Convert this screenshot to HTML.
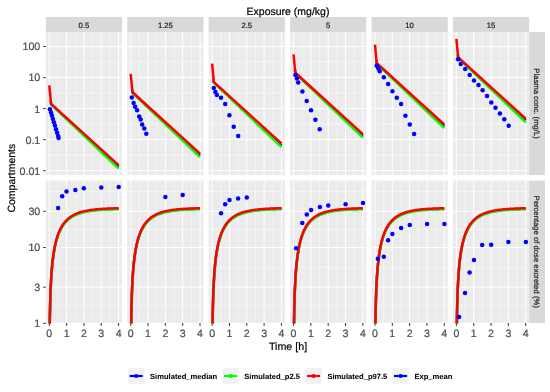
<!DOCTYPE html>
<html><head><meta charset="utf-8"><style>
html,body{margin:0;padding:0;background:#fff;width:550px;height:392px;overflow:hidden;position:relative}
svg text{font-family:"Liberation Sans",sans-serif}
svg{will-change:transform}
svg text{stroke:currentColor;stroke-width:0.2px;text-rendering:geometricPrecision}
</style></head><body>
<svg width="550" height="392" viewBox="0 0 550 392" style="position:absolute;left:0;top:0"><defs><clipPath id="c1"><rect x="0" y="32.0" width="76.2" height="143.1"/></clipPath></defs><rect width="550" height="392" fill="#fff"/><rect x="45.84" y="17.0" width="76.2" height="15.00" fill="#D9D9D9"/><text x="83.94" y="27.70" font-size="7.7" fill="#1A1A1A" color="#1A1A1A" text-anchor="middle">0.5</text><rect x="45.84" y="32.0" width="76.2" height="143.10" fill="#EBEBEB"/><line x1="57.96" x2="57.96" y1="32.0" y2="175.1" stroke="#fff" stroke-width="0.5"/><line x1="75.28" x2="75.28" y1="32.0" y2="175.1" stroke="#fff" stroke-width="0.5"/><line x1="92.60" x2="92.60" y1="32.0" y2="175.1" stroke="#fff" stroke-width="0.5"/><line x1="109.92" x2="109.92" y1="32.0" y2="175.1" stroke="#fff" stroke-width="0.5"/><line x1="45.84" x2="122.04" y1="155.18" y2="155.18" stroke="#fff" stroke-width="0.5"/><line x1="45.84" x2="122.04" y1="124.12" y2="124.12" stroke="#fff" stroke-width="0.5"/><line x1="45.84" x2="122.04" y1="93.07" y2="93.07" stroke="#fff" stroke-width="0.5"/><line x1="45.84" x2="122.04" y1="62.02" y2="62.02" stroke="#fff" stroke-width="0.5"/><line x1="45.84" x2="122.04" y1="170.70" y2="170.70" stroke="#fff" stroke-width="1"/><line x1="45.84" x2="122.04" y1="139.65" y2="139.65" stroke="#fff" stroke-width="1"/><line x1="45.84" x2="122.04" y1="108.60" y2="108.60" stroke="#fff" stroke-width="1"/><line x1="45.84" x2="122.04" y1="77.55" y2="77.55" stroke="#fff" stroke-width="1"/><line x1="45.84" x2="122.04" y1="46.50" y2="46.50" stroke="#fff" stroke-width="1"/><line x1="49.30" x2="49.30" y1="32.0" y2="175.1" stroke="#fff" stroke-width="1"/><line x1="66.62" x2="66.62" y1="32.0" y2="175.1" stroke="#fff" stroke-width="1"/><line x1="83.94" x2="83.94" y1="32.0" y2="175.1" stroke="#fff" stroke-width="1"/><line x1="101.26" x2="101.26" y1="32.0" y2="175.1" stroke="#fff" stroke-width="1"/><line x1="118.58" x2="118.58" y1="32.0" y2="175.1" stroke="#fff" stroke-width="1"/><rect x="45.84" y="180.5" width="76.2" height="142.50" fill="#EBEBEB"/><line x1="57.96" x2="57.96" y1="180.5" y2="323.0" stroke="#fff" stroke-width="0.5"/><line x1="75.28" x2="75.28" y1="180.5" y2="323.0" stroke="#fff" stroke-width="0.5"/><line x1="92.60" x2="92.60" y1="180.5" y2="323.0" stroke="#fff" stroke-width="0.5"/><line x1="109.92" x2="109.92" y1="180.5" y2="323.0" stroke="#fff" stroke-width="0.5"/><line x1="45.84" x2="122.04" y1="305.29" y2="305.29" stroke="#fff" stroke-width="0.5"/><line x1="45.84" x2="122.04" y1="267.34" y2="267.34" stroke="#fff" stroke-width="0.5"/><line x1="45.84" x2="122.04" y1="229.39" y2="229.39" stroke="#fff" stroke-width="0.5"/><line x1="45.84" x2="122.04" y1="191.44" y2="191.44" stroke="#fff" stroke-width="0.5"/><line x1="45.84" x2="122.04" y1="323.40" y2="323.40" stroke="#fff" stroke-width="1"/><line x1="45.84" x2="122.04" y1="287.19" y2="287.19" stroke="#fff" stroke-width="1"/><line x1="45.84" x2="122.04" y1="247.50" y2="247.50" stroke="#fff" stroke-width="1"/><line x1="45.84" x2="122.04" y1="211.29" y2="211.29" stroke="#fff" stroke-width="1"/><line x1="49.30" x2="49.30" y1="180.5" y2="323.0" stroke="#fff" stroke-width="1"/><line x1="66.62" x2="66.62" y1="180.5" y2="323.0" stroke="#fff" stroke-width="1"/><line x1="83.94" x2="83.94" y1="180.5" y2="323.0" stroke="#fff" stroke-width="1"/><line x1="101.26" x2="101.26" y1="180.5" y2="323.0" stroke="#fff" stroke-width="1"/><line x1="118.58" x2="118.58" y1="180.5" y2="323.0" stroke="#fff" stroke-width="1"/><line x1="49.30" x2="49.30" y1="323.0" y2="325.90" stroke="#333" stroke-width="1"/><text x="49.30" y="336.6" font-size="10.6" fill="#4D4D4D" color="#4D4D4D" text-anchor="middle">0</text><line x1="66.62" x2="66.62" y1="323.0" y2="325.90" stroke="#333" stroke-width="1"/><text x="66.62" y="336.6" font-size="10.6" fill="#4D4D4D" color="#4D4D4D" text-anchor="middle">1</text><line x1="83.94" x2="83.94" y1="323.0" y2="325.90" stroke="#333" stroke-width="1"/><text x="83.94" y="336.6" font-size="10.6" fill="#4D4D4D" color="#4D4D4D" text-anchor="middle">2</text><line x1="101.26" x2="101.26" y1="323.0" y2="325.90" stroke="#333" stroke-width="1"/><text x="101.26" y="336.6" font-size="10.6" fill="#4D4D4D" color="#4D4D4D" text-anchor="middle">3</text><line x1="118.58" x2="118.58" y1="323.0" y2="325.90" stroke="#333" stroke-width="1"/><text x="118.58" y="336.6" font-size="10.6" fill="#4D4D4D" color="#4D4D4D" text-anchor="middle">4</text><g clip-path="none"><polyline points="50.78,100.80 51.03,104.10 118.58,166.95" fill="none" stroke="#0000FF" stroke-width="2.5" stroke-linejoin="round"/><polyline points="50.78,100.80 51.03,104.40 118.58,168.70" fill="none" stroke="#00FF00" stroke-width="2.5" stroke-linejoin="round"/><polyline points="49.30,85.40 51.03,103.80 118.58,165.20" fill="none" stroke="#FF0000" stroke-width="2.5" stroke-linejoin="round"/><circle cx="49.9" cy="109.3" r="2.25" fill="#0000FF"/><circle cx="51.0" cy="112.5" r="2.25" fill="#0000FF"/><circle cx="51.9" cy="115.6" r="2.25" fill="#0000FF"/><circle cx="52.9" cy="119.0" r="2.25" fill="#0000FF"/><circle cx="53.9" cy="122.3" r="2.25" fill="#0000FF"/><circle cx="54.9" cy="125.6" r="2.25" fill="#0000FF"/><circle cx="56.0" cy="129.2" r="2.25" fill="#0000FF"/><circle cx="57.1" cy="132.8" r="2.25" fill="#0000FF"/><circle cx="58.1" cy="136.0" r="2.25" fill="#0000FF"/><circle cx="58.6" cy="137.9" r="2.25" fill="#0000FF"/></g><polyline points="49.76,323.40 49.76,323.06 49.78,322.08 49.80,320.50 49.84,318.41 49.88,315.92 49.93,313.11 49.99,310.09 50.07,306.93 50.15,303.69 50.24,300.44 50.34,297.19 50.45,294.00 50.57,290.86 50.70,287.81 50.84,284.84 50.98,281.97 51.14,279.19 51.31,276.50 51.49,273.91 51.67,271.42 51.87,269.01 52.07,266.70 52.29,264.47 52.51,262.32 52.75,260.25 52.99,258.26 53.24,256.34 53.51,254.49 53.78,252.71 54.06,251.00 54.35,249.35 54.65,247.75 54.96,246.22 55.28,244.74 55.61,243.31 55.95,241.94 56.30,240.61 56.66,239.33 57.03,238.10 57.41,236.91 57.79,235.76 58.19,234.66 58.60,233.59 59.01,232.56 59.44,231.57 59.87,230.61 60.32,229.69 60.77,228.80 61.23,227.95 61.71,227.12 62.19,226.32 62.68,225.56 63.18,224.82 63.70,224.10 64.22,223.42 64.75,222.76 65.29,222.12 65.84,221.51 66.40,220.92 66.96,220.35 67.54,219.81 68.13,219.29 68.73,218.78 69.34,218.30 69.95,217.83 70.58,217.39 71.21,216.96 71.86,216.55 72.51,216.15 73.18,215.77 73.85,215.41 74.54,215.06 75.23,214.73 75.93,214.41 76.64,214.10 77.36,213.81 78.10,213.53 78.84,213.26 79.59,213.01 80.35,212.76 81.12,212.53 81.89,212.31 82.68,212.10 83.48,211.90 84.29,211.70 85.11,211.52 85.93,211.34 86.77,211.18 87.62,211.02 88.47,210.87 89.34,210.73 90.21,210.59 91.09,210.46 91.99,210.34 92.89,210.23 93.80,210.12 94.73,210.01 95.66,209.92 96.60,209.82 97.55,209.74 98.51,209.65 99.48,209.58 100.46,209.50 101.45,209.43 102.45,209.37 103.46,209.31 104.48,209.25 105.50,209.19 106.54,209.14 107.59,209.09 108.64,209.05 109.71,209.01 110.79,208.97 111.87,208.93 112.96,208.90 114.07,208.86 115.18,208.83 116.31,208.80 117.44,208.78 118.58,208.75" fill="none" stroke="#0000FF" stroke-width="2.5"/><polyline points="49.77,323.40 49.77,323.07 49.79,322.10 49.81,320.54 49.84,318.49 49.89,316.02 49.94,313.25 50.00,310.26 50.07,307.13 50.15,303.93 50.24,300.70 50.35,297.48 50.46,294.31 50.57,291.19 50.70,288.16 50.84,285.21 50.99,282.34 51.15,279.58 51.32,276.90 51.49,274.32 51.68,271.84 51.87,269.44 52.08,267.13 52.29,264.90 52.52,262.76 52.75,260.70 53.00,258.71 53.25,256.80 53.51,254.95 53.79,253.18 54.07,251.47 54.36,249.82 54.66,248.23 54.97,246.69 55.29,245.22 55.62,243.79 55.96,242.42 56.31,241.09 56.67,239.82 57.04,238.59 57.41,237.40 57.80,236.25 58.20,235.15 58.60,234.08 59.02,233.06 59.44,232.06 59.88,231.11 60.32,230.19 60.78,229.30 61.24,228.44 61.71,227.62 62.20,226.82 62.69,226.06 63.19,225.32 63.70,224.61 64.22,223.92 64.75,223.26 65.29,222.62 65.84,222.01 66.40,221.42 66.97,220.86 67.55,220.31 68.14,219.79 68.73,219.29 69.34,218.80 69.96,218.34 70.58,217.89 71.22,217.46 71.86,217.05 72.52,216.66 73.18,216.28 73.86,215.91 74.54,215.57 75.23,215.23 75.94,214.91 76.65,214.61 77.37,214.32 78.10,214.04 78.84,213.77 79.59,213.51 80.35,213.27 81.12,213.04 81.90,212.82 82.69,212.60 83.49,212.40 84.29,212.21 85.11,212.03 85.94,211.85 86.77,211.69 87.62,211.53 88.47,211.38 89.34,211.24 90.21,211.10 91.10,210.97 91.99,210.85 92.89,210.74 93.81,210.63 94.73,210.52 95.66,210.42 96.60,210.33 97.55,210.24 98.51,210.16 99.48,210.08 100.46,210.01 101.45,209.94 102.45,209.88 103.46,209.81 104.48,209.76 105.51,209.70 106.54,209.65 107.59,209.60 108.65,209.56 109.71,209.52 110.79,209.48 111.87,209.44 112.97,209.40 114.07,209.37 115.18,209.34 116.31,209.31 117.44,209.29 118.58,209.26" fill="none" stroke="#00FF00" stroke-width="2.5"/><polyline points="49.75,323.40 49.76,323.06 49.77,322.06 49.80,320.46 49.83,318.34 49.87,315.81 49.92,312.97 49.99,309.92 50.06,306.72 50.14,303.46 50.23,300.17 50.33,296.91 50.44,293.69 50.56,290.54 50.69,287.47 50.83,284.48 50.98,281.60 51.13,278.80 51.30,276.11 51.48,273.51 51.66,271.01 51.86,268.59 52.07,266.27 52.28,264.03 52.51,261.88 52.74,259.81 52.98,257.81 53.24,255.89 53.50,254.04 53.77,252.25 54.05,250.54 54.35,248.88 54.65,247.29 54.96,245.75 55.28,244.27 55.61,242.84 55.95,241.46 56.30,240.13 56.65,238.85 57.02,237.62 57.40,236.43 57.79,235.28 58.18,234.17 58.59,233.11 59.01,232.08 59.43,231.08 59.87,230.13 60.31,229.20 60.77,228.31 61.23,227.46 61.70,226.63 62.18,225.83 62.68,225.06 63.18,224.33 63.69,223.61 64.21,222.93 64.74,222.27 65.28,221.63 65.83,221.02 66.39,220.43 66.96,219.86 67.54,219.31 68.13,218.79 68.72,218.29 69.33,217.80 69.95,217.34 70.57,216.89 71.21,216.46 71.85,216.05 72.51,215.65 73.17,215.27 73.85,214.91 74.53,214.56 75.22,214.23 75.93,213.91 76.64,213.60 77.36,213.31 78.09,213.03 78.83,212.76 79.58,212.51 80.34,212.27 81.11,212.03 81.89,211.81 82.68,211.60 83.48,211.40 84.29,211.20 85.10,211.02 85.93,210.85 86.77,210.68 87.61,210.52 88.47,210.37 89.33,210.23 90.21,210.09 91.09,209.96 91.99,209.84 92.89,209.73 93.80,209.62 94.72,209.51 95.66,209.42 96.60,209.32 97.55,209.24 98.51,209.15 99.48,209.08 100.46,209.00 101.45,208.93 102.45,208.87 103.46,208.81 104.48,208.75 105.50,208.69 106.54,208.64 107.59,208.59 108.64,208.55 109.71,208.51 110.78,208.47 111.87,208.43 112.96,208.40 114.07,208.36 115.18,208.33 116.30,208.30 117.44,208.28 118.58,208.25" fill="none" stroke="#FF0000" stroke-width="2.5"/><circle cx="58.1" cy="207.9" r="2.25" fill="#0000FF"/><circle cx="62.2" cy="196.3" r="2.25" fill="#0000FF"/><circle cx="66.5" cy="191.6" r="2.25" fill="#0000FF"/><circle cx="75.3" cy="189.9" r="2.25" fill="#0000FF"/><circle cx="83.8" cy="188.3" r="2.25" fill="#0000FF"/><circle cx="101.3" cy="187.6" r="2.25" fill="#0000FF"/><circle cx="118.7" cy="187.0" r="2.25" fill="#0000FF"/><rect x="127.26" y="17.0" width="76.2" height="15.00" fill="#D9D9D9"/><text x="165.36" y="27.70" font-size="7.7" fill="#1A1A1A" color="#1A1A1A" text-anchor="middle">1.25</text><rect x="127.26" y="32.0" width="76.2" height="143.10" fill="#EBEBEB"/><line x1="139.38" x2="139.38" y1="32.0" y2="175.1" stroke="#fff" stroke-width="0.5"/><line x1="156.70" x2="156.70" y1="32.0" y2="175.1" stroke="#fff" stroke-width="0.5"/><line x1="174.02" x2="174.02" y1="32.0" y2="175.1" stroke="#fff" stroke-width="0.5"/><line x1="191.34" x2="191.34" y1="32.0" y2="175.1" stroke="#fff" stroke-width="0.5"/><line x1="127.26" x2="203.46" y1="155.18" y2="155.18" stroke="#fff" stroke-width="0.5"/><line x1="127.26" x2="203.46" y1="124.12" y2="124.12" stroke="#fff" stroke-width="0.5"/><line x1="127.26" x2="203.46" y1="93.07" y2="93.07" stroke="#fff" stroke-width="0.5"/><line x1="127.26" x2="203.46" y1="62.02" y2="62.02" stroke="#fff" stroke-width="0.5"/><line x1="127.26" x2="203.46" y1="170.70" y2="170.70" stroke="#fff" stroke-width="1"/><line x1="127.26" x2="203.46" y1="139.65" y2="139.65" stroke="#fff" stroke-width="1"/><line x1="127.26" x2="203.46" y1="108.60" y2="108.60" stroke="#fff" stroke-width="1"/><line x1="127.26" x2="203.46" y1="77.55" y2="77.55" stroke="#fff" stroke-width="1"/><line x1="127.26" x2="203.46" y1="46.50" y2="46.50" stroke="#fff" stroke-width="1"/><line x1="130.72" x2="130.72" y1="32.0" y2="175.1" stroke="#fff" stroke-width="1"/><line x1="148.04" x2="148.04" y1="32.0" y2="175.1" stroke="#fff" stroke-width="1"/><line x1="165.36" x2="165.36" y1="32.0" y2="175.1" stroke="#fff" stroke-width="1"/><line x1="182.68" x2="182.68" y1="32.0" y2="175.1" stroke="#fff" stroke-width="1"/><line x1="200.00" x2="200.00" y1="32.0" y2="175.1" stroke="#fff" stroke-width="1"/><rect x="127.26" y="180.5" width="76.2" height="142.50" fill="#EBEBEB"/><line x1="139.38" x2="139.38" y1="180.5" y2="323.0" stroke="#fff" stroke-width="0.5"/><line x1="156.70" x2="156.70" y1="180.5" y2="323.0" stroke="#fff" stroke-width="0.5"/><line x1="174.02" x2="174.02" y1="180.5" y2="323.0" stroke="#fff" stroke-width="0.5"/><line x1="191.34" x2="191.34" y1="180.5" y2="323.0" stroke="#fff" stroke-width="0.5"/><line x1="127.26" x2="203.46" y1="305.29" y2="305.29" stroke="#fff" stroke-width="0.5"/><line x1="127.26" x2="203.46" y1="267.34" y2="267.34" stroke="#fff" stroke-width="0.5"/><line x1="127.26" x2="203.46" y1="229.39" y2="229.39" stroke="#fff" stroke-width="0.5"/><line x1="127.26" x2="203.46" y1="191.44" y2="191.44" stroke="#fff" stroke-width="0.5"/><line x1="127.26" x2="203.46" y1="323.40" y2="323.40" stroke="#fff" stroke-width="1"/><line x1="127.26" x2="203.46" y1="287.19" y2="287.19" stroke="#fff" stroke-width="1"/><line x1="127.26" x2="203.46" y1="247.50" y2="247.50" stroke="#fff" stroke-width="1"/><line x1="127.26" x2="203.46" y1="211.29" y2="211.29" stroke="#fff" stroke-width="1"/><line x1="130.72" x2="130.72" y1="180.5" y2="323.0" stroke="#fff" stroke-width="1"/><line x1="148.04" x2="148.04" y1="180.5" y2="323.0" stroke="#fff" stroke-width="1"/><line x1="165.36" x2="165.36" y1="180.5" y2="323.0" stroke="#fff" stroke-width="1"/><line x1="182.68" x2="182.68" y1="180.5" y2="323.0" stroke="#fff" stroke-width="1"/><line x1="200.00" x2="200.00" y1="180.5" y2="323.0" stroke="#fff" stroke-width="1"/><line x1="130.72" x2="130.72" y1="323.0" y2="325.90" stroke="#333" stroke-width="1"/><text x="130.72" y="336.6" font-size="10.6" fill="#4D4D4D" color="#4D4D4D" text-anchor="middle">0</text><line x1="148.04" x2="148.04" y1="323.0" y2="325.90" stroke="#333" stroke-width="1"/><text x="148.04" y="336.6" font-size="10.6" fill="#4D4D4D" color="#4D4D4D" text-anchor="middle">1</text><line x1="165.36" x2="165.36" y1="323.0" y2="325.90" stroke="#333" stroke-width="1"/><text x="165.36" y="336.6" font-size="10.6" fill="#4D4D4D" color="#4D4D4D" text-anchor="middle">2</text><line x1="182.68" x2="182.68" y1="323.0" y2="325.90" stroke="#333" stroke-width="1"/><text x="182.68" y="336.6" font-size="10.6" fill="#4D4D4D" color="#4D4D4D" text-anchor="middle">3</text><line x1="200.00" x2="200.00" y1="323.0" y2="325.90" stroke="#333" stroke-width="1"/><text x="200.00" y="336.6" font-size="10.6" fill="#4D4D4D" color="#4D4D4D" text-anchor="middle">4</text><g clip-path="none"><polyline points="132.20,89.24 132.45,92.54 200.00,155.39" fill="none" stroke="#0000FF" stroke-width="2.5" stroke-linejoin="round"/><polyline points="132.20,89.24 132.45,92.84 200.00,157.14" fill="none" stroke="#00FF00" stroke-width="2.5" stroke-linejoin="round"/><polyline points="130.72,73.84 132.45,92.24 200.00,153.64" fill="none" stroke="#FF0000" stroke-width="2.5" stroke-linejoin="round"/><circle cx="131.8" cy="97.4" r="2.25" fill="#0000FF"/><circle cx="133.6" cy="103.1" r="2.25" fill="#0000FF"/><circle cx="135.1" cy="106.7" r="2.25" fill="#0000FF"/><circle cx="137.1" cy="110.2" r="2.25" fill="#0000FF"/><circle cx="139.2" cy="116.4" r="2.25" fill="#0000FF"/><circle cx="140.7" cy="119.4" r="2.25" fill="#0000FF"/><circle cx="142.2" cy="124.5" r="2.25" fill="#0000FF"/><circle cx="144.3" cy="128.6" r="2.25" fill="#0000FF"/><circle cx="146.3" cy="133.7" r="2.25" fill="#0000FF"/></g><polyline points="131.18,323.40 131.18,323.06 131.20,322.08 131.22,320.50 131.26,318.41 131.30,315.92 131.35,313.11 131.41,310.09 131.49,306.93 131.57,303.69 131.66,300.44 131.76,297.19 131.87,294.00 131.99,290.86 132.12,287.81 132.26,284.84 132.40,281.97 132.56,279.19 132.73,276.50 132.91,273.91 133.09,271.42 133.29,269.01 133.49,266.70 133.71,264.47 133.93,262.32 134.17,260.25 134.41,258.26 134.66,256.34 134.93,254.49 135.20,252.71 135.48,251.00 135.77,249.35 136.07,247.75 136.38,246.22 136.70,244.74 137.03,243.31 137.37,241.94 137.72,240.61 138.08,239.33 138.45,238.10 138.83,236.91 139.21,235.76 139.61,234.66 140.02,233.59 140.43,232.56 140.86,231.57 141.29,230.61 141.74,229.69 142.19,228.80 142.65,227.95 143.13,227.12 143.61,226.32 144.10,225.56 144.60,224.82 145.12,224.10 145.64,223.42 146.17,222.76 146.71,222.12 147.26,221.51 147.82,220.92 148.38,220.35 148.96,219.81 149.55,219.29 150.15,218.78 150.76,218.30 151.37,217.83 152.00,217.39 152.63,216.96 153.28,216.55 153.93,216.15 154.60,215.77 155.27,215.41 155.96,215.06 156.65,214.73 157.35,214.41 158.06,214.10 158.78,213.81 159.52,213.53 160.26,213.26 161.01,213.01 161.77,212.76 162.54,212.53 163.31,212.31 164.10,212.10 164.90,211.90 165.71,211.70 166.53,211.52 167.35,211.34 168.19,211.18 169.04,211.02 169.89,210.87 170.76,210.73 171.63,210.59 172.51,210.46 173.41,210.34 174.31,210.23 175.22,210.12 176.15,210.01 177.08,209.92 178.02,209.82 178.97,209.74 179.93,209.65 180.90,209.58 181.88,209.50 182.87,209.43 183.87,209.37 184.88,209.31 185.90,209.25 186.92,209.19 187.96,209.14 189.01,209.09 190.06,209.05 191.13,209.01 192.21,208.97 193.29,208.93 194.38,208.90 195.49,208.86 196.60,208.83 197.73,208.80 198.86,208.78 200.00,208.75" fill="none" stroke="#0000FF" stroke-width="2.5"/><polyline points="131.19,323.40 131.19,323.07 131.21,322.10 131.23,320.54 131.26,318.49 131.31,316.02 131.36,313.25 131.42,310.26 131.49,307.13 131.57,303.93 131.66,300.70 131.77,297.48 131.88,294.31 131.99,291.19 132.12,288.16 132.26,285.21 132.41,282.34 132.57,279.58 132.74,276.90 132.91,274.32 133.10,271.84 133.29,269.44 133.50,267.13 133.71,264.90 133.94,262.76 134.17,260.70 134.42,258.71 134.67,256.80 134.93,254.95 135.21,253.18 135.49,251.47 135.78,249.82 136.08,248.23 136.39,246.69 136.71,245.22 137.04,243.79 137.38,242.42 137.73,241.09 138.09,239.82 138.46,238.59 138.83,237.40 139.22,236.25 139.62,235.15 140.02,234.08 140.44,233.06 140.86,232.06 141.30,231.11 141.74,230.19 142.20,229.30 142.66,228.44 143.13,227.62 143.62,226.82 144.11,226.06 144.61,225.32 145.12,224.61 145.64,223.92 146.17,223.26 146.71,222.62 147.26,222.01 147.82,221.42 148.39,220.86 148.97,220.31 149.56,219.79 150.15,219.29 150.76,218.80 151.38,218.34 152.00,217.89 152.64,217.46 153.28,217.05 153.94,216.66 154.60,216.28 155.28,215.91 155.96,215.57 156.65,215.23 157.36,214.91 158.07,214.61 158.79,214.32 159.52,214.04 160.26,213.77 161.01,213.51 161.77,213.27 162.54,213.04 163.32,212.82 164.11,212.60 164.91,212.40 165.71,212.21 166.53,212.03 167.36,211.85 168.19,211.69 169.04,211.53 169.89,211.38 170.76,211.24 171.63,211.10 172.52,210.97 173.41,210.85 174.31,210.74 175.23,210.63 176.15,210.52 177.08,210.42 178.02,210.33 178.97,210.24 179.93,210.16 180.90,210.08 181.88,210.01 182.87,209.94 183.87,209.88 184.88,209.81 185.90,209.76 186.93,209.70 187.96,209.65 189.01,209.60 190.07,209.56 191.13,209.52 192.21,209.48 193.29,209.44 194.39,209.40 195.49,209.37 196.60,209.34 197.73,209.31 198.86,209.29 200.00,209.26" fill="none" stroke="#00FF00" stroke-width="2.5"/><polyline points="131.17,323.40 131.18,323.06 131.19,322.06 131.22,320.46 131.25,318.34 131.29,315.81 131.34,312.97 131.41,309.92 131.48,306.72 131.56,303.46 131.65,300.17 131.75,296.91 131.86,293.69 131.98,290.54 132.11,287.47 132.25,284.48 132.40,281.60 132.55,278.80 132.72,276.11 132.90,273.51 133.08,271.01 133.28,268.59 133.49,266.27 133.70,264.03 133.93,261.88 134.16,259.81 134.40,257.81 134.66,255.89 134.92,254.04 135.19,252.25 135.47,250.54 135.77,248.88 136.07,247.29 136.38,245.75 136.70,244.27 137.03,242.84 137.37,241.46 137.72,240.13 138.07,238.85 138.44,237.62 138.82,236.43 139.21,235.28 139.60,234.17 140.01,233.11 140.43,232.08 140.85,231.08 141.29,230.13 141.73,229.20 142.19,228.31 142.65,227.46 143.12,226.63 143.60,225.83 144.10,225.06 144.60,224.33 145.11,223.61 145.63,222.93 146.16,222.27 146.70,221.63 147.25,221.02 147.81,220.43 148.38,219.86 148.96,219.31 149.55,218.79 150.14,218.29 150.75,217.80 151.37,217.34 151.99,216.89 152.63,216.46 153.27,216.05 153.93,215.65 154.59,215.27 155.27,214.91 155.95,214.56 156.64,214.23 157.35,213.91 158.06,213.60 158.78,213.31 159.51,213.03 160.25,212.76 161.00,212.51 161.76,212.27 162.53,212.03 163.31,211.81 164.10,211.60 164.90,211.40 165.71,211.20 166.52,211.02 167.35,210.85 168.19,210.68 169.03,210.52 169.89,210.37 170.75,210.23 171.63,210.09 172.51,209.96 173.41,209.84 174.31,209.73 175.22,209.62 176.14,209.51 177.08,209.42 178.02,209.32 178.97,209.24 179.93,209.15 180.90,209.08 181.88,209.00 182.87,208.93 183.87,208.87 184.88,208.81 185.90,208.75 186.92,208.69 187.96,208.64 189.01,208.59 190.06,208.55 191.13,208.51 192.20,208.47 193.29,208.43 194.38,208.40 195.49,208.36 196.60,208.33 197.72,208.30 198.86,208.28 200.00,208.25" fill="none" stroke="#FF0000" stroke-width="2.5"/><circle cx="165.4" cy="197.0" r="2.25" fill="#0000FF"/><circle cx="182.7" cy="194.9" r="2.25" fill="#0000FF"/><rect x="208.68" y="17.0" width="76.2" height="15.00" fill="#D9D9D9"/><text x="246.78" y="27.70" font-size="7.7" fill="#1A1A1A" color="#1A1A1A" text-anchor="middle">2.5</text><rect x="208.68" y="32.0" width="76.2" height="143.10" fill="#EBEBEB"/><line x1="220.80" x2="220.80" y1="32.0" y2="175.1" stroke="#fff" stroke-width="0.5"/><line x1="238.12" x2="238.12" y1="32.0" y2="175.1" stroke="#fff" stroke-width="0.5"/><line x1="255.44" x2="255.44" y1="32.0" y2="175.1" stroke="#fff" stroke-width="0.5"/><line x1="272.76" x2="272.76" y1="32.0" y2="175.1" stroke="#fff" stroke-width="0.5"/><line x1="208.68" x2="284.88" y1="155.18" y2="155.18" stroke="#fff" stroke-width="0.5"/><line x1="208.68" x2="284.88" y1="124.12" y2="124.12" stroke="#fff" stroke-width="0.5"/><line x1="208.68" x2="284.88" y1="93.07" y2="93.07" stroke="#fff" stroke-width="0.5"/><line x1="208.68" x2="284.88" y1="62.02" y2="62.02" stroke="#fff" stroke-width="0.5"/><line x1="208.68" x2="284.88" y1="170.70" y2="170.70" stroke="#fff" stroke-width="1"/><line x1="208.68" x2="284.88" y1="139.65" y2="139.65" stroke="#fff" stroke-width="1"/><line x1="208.68" x2="284.88" y1="108.60" y2="108.60" stroke="#fff" stroke-width="1"/><line x1="208.68" x2="284.88" y1="77.55" y2="77.55" stroke="#fff" stroke-width="1"/><line x1="208.68" x2="284.88" y1="46.50" y2="46.50" stroke="#fff" stroke-width="1"/><line x1="212.14" x2="212.14" y1="32.0" y2="175.1" stroke="#fff" stroke-width="1"/><line x1="229.46" x2="229.46" y1="32.0" y2="175.1" stroke="#fff" stroke-width="1"/><line x1="246.78" x2="246.78" y1="32.0" y2="175.1" stroke="#fff" stroke-width="1"/><line x1="264.10" x2="264.10" y1="32.0" y2="175.1" stroke="#fff" stroke-width="1"/><line x1="281.42" x2="281.42" y1="32.0" y2="175.1" stroke="#fff" stroke-width="1"/><rect x="208.68" y="180.5" width="76.2" height="142.50" fill="#EBEBEB"/><line x1="220.80" x2="220.80" y1="180.5" y2="323.0" stroke="#fff" stroke-width="0.5"/><line x1="238.12" x2="238.12" y1="180.5" y2="323.0" stroke="#fff" stroke-width="0.5"/><line x1="255.44" x2="255.44" y1="180.5" y2="323.0" stroke="#fff" stroke-width="0.5"/><line x1="272.76" x2="272.76" y1="180.5" y2="323.0" stroke="#fff" stroke-width="0.5"/><line x1="208.68" x2="284.88" y1="305.29" y2="305.29" stroke="#fff" stroke-width="0.5"/><line x1="208.68" x2="284.88" y1="267.34" y2="267.34" stroke="#fff" stroke-width="0.5"/><line x1="208.68" x2="284.88" y1="229.39" y2="229.39" stroke="#fff" stroke-width="0.5"/><line x1="208.68" x2="284.88" y1="191.44" y2="191.44" stroke="#fff" stroke-width="0.5"/><line x1="208.68" x2="284.88" y1="323.40" y2="323.40" stroke="#fff" stroke-width="1"/><line x1="208.68" x2="284.88" y1="287.19" y2="287.19" stroke="#fff" stroke-width="1"/><line x1="208.68" x2="284.88" y1="247.50" y2="247.50" stroke="#fff" stroke-width="1"/><line x1="208.68" x2="284.88" y1="211.29" y2="211.29" stroke="#fff" stroke-width="1"/><line x1="212.14" x2="212.14" y1="180.5" y2="323.0" stroke="#fff" stroke-width="1"/><line x1="229.46" x2="229.46" y1="180.5" y2="323.0" stroke="#fff" stroke-width="1"/><line x1="246.78" x2="246.78" y1="180.5" y2="323.0" stroke="#fff" stroke-width="1"/><line x1="264.10" x2="264.10" y1="180.5" y2="323.0" stroke="#fff" stroke-width="1"/><line x1="281.42" x2="281.42" y1="180.5" y2="323.0" stroke="#fff" stroke-width="1"/><line x1="212.14" x2="212.14" y1="323.0" y2="325.90" stroke="#333" stroke-width="1"/><text x="212.14" y="336.6" font-size="10.6" fill="#4D4D4D" color="#4D4D4D" text-anchor="middle">0</text><line x1="229.46" x2="229.46" y1="323.0" y2="325.90" stroke="#333" stroke-width="1"/><text x="229.46" y="336.6" font-size="10.6" fill="#4D4D4D" color="#4D4D4D" text-anchor="middle">1</text><line x1="246.78" x2="246.78" y1="323.0" y2="325.90" stroke="#333" stroke-width="1"/><text x="246.78" y="336.6" font-size="10.6" fill="#4D4D4D" color="#4D4D4D" text-anchor="middle">2</text><line x1="264.10" x2="264.10" y1="323.0" y2="325.90" stroke="#333" stroke-width="1"/><text x="264.10" y="336.6" font-size="10.6" fill="#4D4D4D" color="#4D4D4D" text-anchor="middle">3</text><line x1="281.42" x2="281.42" y1="323.0" y2="325.90" stroke="#333" stroke-width="1"/><text x="281.42" y="336.6" font-size="10.6" fill="#4D4D4D" color="#4D4D4D" text-anchor="middle">4</text><g clip-path="none"><polyline points="213.62,79.10 213.87,82.40 281.42,145.25" fill="none" stroke="#0000FF" stroke-width="2.5" stroke-linejoin="round"/><polyline points="213.62,79.10 213.87,82.70 281.42,147.00" fill="none" stroke="#00FF00" stroke-width="2.5" stroke-linejoin="round"/><polyline points="212.14,63.70 213.87,82.10 281.42,143.50" fill="none" stroke="#FF0000" stroke-width="2.5" stroke-linejoin="round"/><circle cx="213.8" cy="88" r="2.25" fill="#0000FF"/><circle cx="215.4" cy="91.9" r="2.25" fill="#0000FF"/><circle cx="216.9" cy="95" r="2.25" fill="#0000FF"/><circle cx="221" cy="97.8" r="2.25" fill="#0000FF"/><circle cx="225.2" cy="103.9" r="2.25" fill="#0000FF"/><circle cx="229.4" cy="115.2" r="2.25" fill="#0000FF"/><circle cx="233.7" cy="126.7" r="2.25" fill="#0000FF"/><circle cx="238.2" cy="136" r="2.25" fill="#0000FF"/></g><polyline points="212.60,323.40 212.60,323.06 212.62,322.08 212.64,320.50 212.68,318.41 212.72,315.92 212.77,313.11 212.83,310.09 212.91,306.93 212.99,303.69 213.08,300.44 213.18,297.19 213.29,294.00 213.41,290.86 213.54,287.81 213.68,284.84 213.82,281.97 213.98,279.19 214.15,276.50 214.33,273.91 214.51,271.42 214.71,269.01 214.91,266.70 215.13,264.47 215.35,262.32 215.59,260.25 215.83,258.26 216.08,256.34 216.35,254.49 216.62,252.71 216.90,251.00 217.19,249.35 217.49,247.75 217.80,246.22 218.12,244.74 218.45,243.31 218.79,241.94 219.14,240.61 219.50,239.33 219.87,238.10 220.25,236.91 220.63,235.76 221.03,234.66 221.44,233.59 221.85,232.56 222.28,231.57 222.71,230.61 223.16,229.69 223.61,228.80 224.07,227.95 224.55,227.12 225.03,226.32 225.52,225.56 226.02,224.82 226.54,224.10 227.06,223.42 227.59,222.76 228.13,222.12 228.68,221.51 229.24,220.92 229.80,220.35 230.38,219.81 230.97,219.29 231.57,218.78 232.18,218.30 232.79,217.83 233.42,217.39 234.05,216.96 234.70,216.55 235.35,216.15 236.02,215.77 236.69,215.41 237.38,215.06 238.07,214.73 238.77,214.41 239.48,214.10 240.20,213.81 240.94,213.53 241.68,213.26 242.43,213.01 243.19,212.76 243.96,212.53 244.73,212.31 245.52,212.10 246.32,211.90 247.13,211.70 247.95,211.52 248.77,211.34 249.61,211.18 250.46,211.02 251.31,210.87 252.18,210.73 253.05,210.59 253.93,210.46 254.83,210.34 255.73,210.23 256.64,210.12 257.57,210.01 258.50,209.92 259.44,209.82 260.39,209.74 261.35,209.65 262.32,209.58 263.30,209.50 264.29,209.43 265.29,209.37 266.30,209.31 267.32,209.25 268.34,209.19 269.38,209.14 270.43,209.09 271.48,209.05 272.55,209.01 273.63,208.97 274.71,208.93 275.80,208.90 276.91,208.86 278.02,208.83 279.15,208.80 280.28,208.78 281.42,208.75" fill="none" stroke="#0000FF" stroke-width="2.5"/><polyline points="212.61,323.40 212.61,323.07 212.63,322.10 212.65,320.54 212.68,318.49 212.73,316.02 212.78,313.25 212.84,310.26 212.91,307.13 212.99,303.93 213.08,300.70 213.19,297.48 213.30,294.31 213.41,291.19 213.54,288.16 213.68,285.21 213.83,282.34 213.99,279.58 214.16,276.90 214.33,274.32 214.52,271.84 214.71,269.44 214.92,267.13 215.13,264.90 215.36,262.76 215.59,260.70 215.84,258.71 216.09,256.80 216.35,254.95 216.63,253.18 216.91,251.47 217.20,249.82 217.50,248.23 217.81,246.69 218.13,245.22 218.46,243.79 218.80,242.42 219.15,241.09 219.51,239.82 219.88,238.59 220.25,237.40 220.64,236.25 221.04,235.15 221.44,234.08 221.86,233.06 222.28,232.06 222.72,231.11 223.16,230.19 223.62,229.30 224.08,228.44 224.55,227.62 225.04,226.82 225.53,226.06 226.03,225.32 226.54,224.61 227.06,223.92 227.59,223.26 228.13,222.62 228.68,222.01 229.24,221.42 229.81,220.86 230.39,220.31 230.98,219.79 231.57,219.29 232.18,218.80 232.80,218.34 233.42,217.89 234.06,217.46 234.70,217.05 235.36,216.66 236.02,216.28 236.70,215.91 237.38,215.57 238.07,215.23 238.78,214.91 239.49,214.61 240.21,214.32 240.94,214.04 241.68,213.77 242.43,213.51 243.19,213.27 243.96,213.04 244.74,212.82 245.53,212.60 246.33,212.40 247.13,212.21 247.95,212.03 248.78,211.85 249.61,211.69 250.46,211.53 251.31,211.38 252.18,211.24 253.05,211.10 253.94,210.97 254.83,210.85 255.73,210.74 256.65,210.63 257.57,210.52 258.50,210.42 259.44,210.33 260.39,210.24 261.35,210.16 262.32,210.08 263.30,210.01 264.29,209.94 265.29,209.88 266.30,209.81 267.32,209.76 268.35,209.70 269.38,209.65 270.43,209.60 271.49,209.56 272.55,209.52 273.63,209.48 274.71,209.44 275.81,209.40 276.91,209.37 278.02,209.34 279.15,209.31 280.28,209.29 281.42,209.26" fill="none" stroke="#00FF00" stroke-width="2.5"/><polyline points="212.59,323.40 212.60,323.06 212.61,322.06 212.64,320.46 212.67,318.34 212.71,315.81 212.76,312.97 212.83,309.92 212.90,306.72 212.98,303.46 213.07,300.17 213.17,296.91 213.28,293.69 213.40,290.54 213.53,287.47 213.67,284.48 213.82,281.60 213.97,278.80 214.14,276.11 214.32,273.51 214.50,271.01 214.70,268.59 214.91,266.27 215.12,264.03 215.35,261.88 215.58,259.81 215.82,257.81 216.08,255.89 216.34,254.04 216.61,252.25 216.89,250.54 217.19,248.88 217.49,247.29 217.80,245.75 218.12,244.27 218.45,242.84 218.79,241.46 219.14,240.13 219.49,238.85 219.86,237.62 220.24,236.43 220.63,235.28 221.02,234.17 221.43,233.11 221.85,232.08 222.27,231.08 222.71,230.13 223.15,229.20 223.61,228.31 224.07,227.46 224.54,226.63 225.02,225.83 225.52,225.06 226.02,224.33 226.53,223.61 227.05,222.93 227.58,222.27 228.12,221.63 228.67,221.02 229.23,220.43 229.80,219.86 230.38,219.31 230.97,218.79 231.56,218.29 232.17,217.80 232.79,217.34 233.41,216.89 234.05,216.46 234.69,216.05 235.35,215.65 236.01,215.27 236.69,214.91 237.37,214.56 238.06,214.23 238.77,213.91 239.48,213.60 240.20,213.31 240.93,213.03 241.67,212.76 242.42,212.51 243.18,212.27 243.95,212.03 244.73,211.81 245.52,211.60 246.32,211.40 247.13,211.20 247.94,211.02 248.77,210.85 249.61,210.68 250.45,210.52 251.31,210.37 252.17,210.23 253.05,210.09 253.93,209.96 254.83,209.84 255.73,209.73 256.64,209.62 257.56,209.51 258.50,209.42 259.44,209.32 260.39,209.24 261.35,209.15 262.32,209.08 263.30,209.00 264.29,208.93 265.29,208.87 266.30,208.81 267.32,208.75 268.34,208.69 269.38,208.64 270.43,208.59 271.48,208.55 272.55,208.51 273.62,208.47 274.71,208.43 275.80,208.40 276.91,208.36 278.02,208.33 279.14,208.30 280.28,208.28 281.42,208.25" fill="none" stroke="#FF0000" stroke-width="2.5"/><circle cx="221.1" cy="213.3" r="2.25" fill="#0000FF"/><circle cx="225.2" cy="204.2" r="2.25" fill="#0000FF"/><circle cx="229.5" cy="200.1" r="2.25" fill="#0000FF"/><circle cx="238.1" cy="198.4" r="2.25" fill="#0000FF"/><circle cx="246.8" cy="197.6" r="2.25" fill="#0000FF"/><rect x="290.10" y="17.0" width="76.2" height="15.00" fill="#D9D9D9"/><text x="328.20" y="27.70" font-size="7.7" fill="#1A1A1A" color="#1A1A1A" text-anchor="middle">5</text><rect x="290.10" y="32.0" width="76.2" height="143.10" fill="#EBEBEB"/><line x1="302.22" x2="302.22" y1="32.0" y2="175.1" stroke="#fff" stroke-width="0.5"/><line x1="319.54" x2="319.54" y1="32.0" y2="175.1" stroke="#fff" stroke-width="0.5"/><line x1="336.86" x2="336.86" y1="32.0" y2="175.1" stroke="#fff" stroke-width="0.5"/><line x1="354.18" x2="354.18" y1="32.0" y2="175.1" stroke="#fff" stroke-width="0.5"/><line x1="290.10" x2="366.30" y1="155.18" y2="155.18" stroke="#fff" stroke-width="0.5"/><line x1="290.10" x2="366.30" y1="124.12" y2="124.12" stroke="#fff" stroke-width="0.5"/><line x1="290.10" x2="366.30" y1="93.07" y2="93.07" stroke="#fff" stroke-width="0.5"/><line x1="290.10" x2="366.30" y1="62.02" y2="62.02" stroke="#fff" stroke-width="0.5"/><line x1="290.10" x2="366.30" y1="170.70" y2="170.70" stroke="#fff" stroke-width="1"/><line x1="290.10" x2="366.30" y1="139.65" y2="139.65" stroke="#fff" stroke-width="1"/><line x1="290.10" x2="366.30" y1="108.60" y2="108.60" stroke="#fff" stroke-width="1"/><line x1="290.10" x2="366.30" y1="77.55" y2="77.55" stroke="#fff" stroke-width="1"/><line x1="290.10" x2="366.30" y1="46.50" y2="46.50" stroke="#fff" stroke-width="1"/><line x1="293.56" x2="293.56" y1="32.0" y2="175.1" stroke="#fff" stroke-width="1"/><line x1="310.88" x2="310.88" y1="32.0" y2="175.1" stroke="#fff" stroke-width="1"/><line x1="328.20" x2="328.20" y1="32.0" y2="175.1" stroke="#fff" stroke-width="1"/><line x1="345.52" x2="345.52" y1="32.0" y2="175.1" stroke="#fff" stroke-width="1"/><line x1="362.84" x2="362.84" y1="32.0" y2="175.1" stroke="#fff" stroke-width="1"/><rect x="290.10" y="180.5" width="76.2" height="142.50" fill="#EBEBEB"/><line x1="302.22" x2="302.22" y1="180.5" y2="323.0" stroke="#fff" stroke-width="0.5"/><line x1="319.54" x2="319.54" y1="180.5" y2="323.0" stroke="#fff" stroke-width="0.5"/><line x1="336.86" x2="336.86" y1="180.5" y2="323.0" stroke="#fff" stroke-width="0.5"/><line x1="354.18" x2="354.18" y1="180.5" y2="323.0" stroke="#fff" stroke-width="0.5"/><line x1="290.10" x2="366.30" y1="305.29" y2="305.29" stroke="#fff" stroke-width="0.5"/><line x1="290.10" x2="366.30" y1="267.34" y2="267.34" stroke="#fff" stroke-width="0.5"/><line x1="290.10" x2="366.30" y1="229.39" y2="229.39" stroke="#fff" stroke-width="0.5"/><line x1="290.10" x2="366.30" y1="191.44" y2="191.44" stroke="#fff" stroke-width="0.5"/><line x1="290.10" x2="366.30" y1="323.40" y2="323.40" stroke="#fff" stroke-width="1"/><line x1="290.10" x2="366.30" y1="287.19" y2="287.19" stroke="#fff" stroke-width="1"/><line x1="290.10" x2="366.30" y1="247.50" y2="247.50" stroke="#fff" stroke-width="1"/><line x1="290.10" x2="366.30" y1="211.29" y2="211.29" stroke="#fff" stroke-width="1"/><line x1="293.56" x2="293.56" y1="180.5" y2="323.0" stroke="#fff" stroke-width="1"/><line x1="310.88" x2="310.88" y1="180.5" y2="323.0" stroke="#fff" stroke-width="1"/><line x1="328.20" x2="328.20" y1="180.5" y2="323.0" stroke="#fff" stroke-width="1"/><line x1="345.52" x2="345.52" y1="180.5" y2="323.0" stroke="#fff" stroke-width="1"/><line x1="362.84" x2="362.84" y1="180.5" y2="323.0" stroke="#fff" stroke-width="1"/><line x1="293.56" x2="293.56" y1="323.0" y2="325.90" stroke="#333" stroke-width="1"/><text x="293.56" y="336.6" font-size="10.6" fill="#4D4D4D" color="#4D4D4D" text-anchor="middle">0</text><line x1="310.88" x2="310.88" y1="323.0" y2="325.90" stroke="#333" stroke-width="1"/><text x="310.88" y="336.6" font-size="10.6" fill="#4D4D4D" color="#4D4D4D" text-anchor="middle">1</text><line x1="328.20" x2="328.20" y1="323.0" y2="325.90" stroke="#333" stroke-width="1"/><text x="328.20" y="336.6" font-size="10.6" fill="#4D4D4D" color="#4D4D4D" text-anchor="middle">2</text><line x1="345.52" x2="345.52" y1="323.0" y2="325.90" stroke="#333" stroke-width="1"/><text x="345.52" y="336.6" font-size="10.6" fill="#4D4D4D" color="#4D4D4D" text-anchor="middle">3</text><line x1="362.84" x2="362.84" y1="323.0" y2="325.90" stroke="#333" stroke-width="1"/><text x="362.84" y="336.6" font-size="10.6" fill="#4D4D4D" color="#4D4D4D" text-anchor="middle">4</text><g clip-path="none"><polyline points="295.04,69.75 295.29,73.05 362.84,135.90" fill="none" stroke="#0000FF" stroke-width="2.5" stroke-linejoin="round"/><polyline points="295.04,69.75 295.29,73.35 362.84,137.65" fill="none" stroke="#00FF00" stroke-width="2.5" stroke-linejoin="round"/><polyline points="293.56,54.35 295.29,72.75 362.84,134.15" fill="none" stroke="#FF0000" stroke-width="2.5" stroke-linejoin="round"/><circle cx="295.4" cy="75" r="2.25" fill="#0000FF"/><circle cx="296.9" cy="78.6" r="2.25" fill="#0000FF"/><circle cx="298.2" cy="82.5" r="2.25" fill="#0000FF"/><circle cx="302.4" cy="91.6" r="2.25" fill="#0000FF"/><circle cx="306.7" cy="101" r="2.25" fill="#0000FF"/><circle cx="311" cy="110.3" r="2.25" fill="#0000FF"/><circle cx="315.4" cy="119.8" r="2.25" fill="#0000FF"/><circle cx="319.7" cy="129.2" r="2.25" fill="#0000FF"/></g><polyline points="294.02,323.40 294.02,323.06 294.04,322.08 294.06,320.50 294.10,318.41 294.14,315.92 294.19,313.11 294.25,310.09 294.33,306.93 294.41,303.69 294.50,300.44 294.60,297.19 294.71,294.00 294.83,290.86 294.96,287.81 295.10,284.84 295.24,281.97 295.40,279.19 295.57,276.50 295.75,273.91 295.93,271.42 296.13,269.01 296.33,266.70 296.55,264.47 296.77,262.32 297.01,260.25 297.25,258.26 297.50,256.34 297.77,254.49 298.04,252.71 298.32,251.00 298.61,249.35 298.91,247.75 299.22,246.22 299.54,244.74 299.87,243.31 300.21,241.94 300.56,240.61 300.92,239.33 301.29,238.10 301.67,236.91 302.05,235.76 302.45,234.66 302.86,233.59 303.27,232.56 303.70,231.57 304.13,230.61 304.58,229.69 305.03,228.80 305.49,227.95 305.97,227.12 306.45,226.32 306.94,225.56 307.44,224.82 307.96,224.10 308.48,223.42 309.01,222.76 309.55,222.12 310.10,221.51 310.66,220.92 311.22,220.35 311.80,219.81 312.39,219.29 312.99,218.78 313.60,218.30 314.21,217.83 314.84,217.39 315.47,216.96 316.12,216.55 316.77,216.15 317.44,215.77 318.11,215.41 318.80,215.06 319.49,214.73 320.19,214.41 320.90,214.10 321.62,213.81 322.36,213.53 323.10,213.26 323.85,213.01 324.61,212.76 325.38,212.53 326.15,212.31 326.94,212.10 327.74,211.90 328.55,211.70 329.37,211.52 330.19,211.34 331.03,211.18 331.88,211.02 332.73,210.87 333.60,210.73 334.47,210.59 335.35,210.46 336.25,210.34 337.15,210.23 338.06,210.12 338.99,210.01 339.92,209.92 340.86,209.82 341.81,209.74 342.77,209.65 343.74,209.58 344.72,209.50 345.71,209.43 346.71,209.37 347.72,209.31 348.74,209.25 349.76,209.19 350.80,209.14 351.85,209.09 352.90,209.05 353.97,209.01 355.05,208.97 356.13,208.93 357.22,208.90 358.33,208.86 359.44,208.83 360.57,208.80 361.70,208.78 362.84,208.75" fill="none" stroke="#0000FF" stroke-width="2.5"/><polyline points="294.03,323.40 294.03,323.07 294.05,322.10 294.07,320.54 294.10,318.49 294.15,316.02 294.20,313.25 294.26,310.26 294.33,307.13 294.41,303.93 294.50,300.70 294.61,297.48 294.72,294.31 294.83,291.19 294.96,288.16 295.10,285.21 295.25,282.34 295.41,279.58 295.58,276.90 295.75,274.32 295.94,271.84 296.13,269.44 296.34,267.13 296.55,264.90 296.78,262.76 297.01,260.70 297.26,258.71 297.51,256.80 297.77,254.95 298.05,253.18 298.33,251.47 298.62,249.82 298.92,248.23 299.23,246.69 299.55,245.22 299.88,243.79 300.22,242.42 300.57,241.09 300.93,239.82 301.30,238.59 301.67,237.40 302.06,236.25 302.46,235.15 302.86,234.08 303.28,233.06 303.70,232.06 304.14,231.11 304.58,230.19 305.04,229.30 305.50,228.44 305.97,227.62 306.46,226.82 306.95,226.06 307.45,225.32 307.96,224.61 308.48,223.92 309.01,223.26 309.55,222.62 310.10,222.01 310.66,221.42 311.23,220.86 311.81,220.31 312.40,219.79 312.99,219.29 313.60,218.80 314.22,218.34 314.84,217.89 315.48,217.46 316.12,217.05 316.78,216.66 317.44,216.28 318.12,215.91 318.80,215.57 319.49,215.23 320.20,214.91 320.91,214.61 321.63,214.32 322.36,214.04 323.10,213.77 323.85,213.51 324.61,213.27 325.38,213.04 326.16,212.82 326.95,212.60 327.75,212.40 328.55,212.21 329.37,212.03 330.20,211.85 331.03,211.69 331.88,211.53 332.73,211.38 333.60,211.24 334.47,211.10 335.36,210.97 336.25,210.85 337.15,210.74 338.07,210.63 338.99,210.52 339.92,210.42 340.86,210.33 341.81,210.24 342.77,210.16 343.74,210.08 344.72,210.01 345.71,209.94 346.71,209.88 347.72,209.81 348.74,209.76 349.77,209.70 350.80,209.65 351.85,209.60 352.91,209.56 353.97,209.52 355.05,209.48 356.13,209.44 357.23,209.40 358.33,209.37 359.44,209.34 360.57,209.31 361.70,209.29 362.84,209.26" fill="none" stroke="#00FF00" stroke-width="2.5"/><polyline points="294.01,323.40 294.02,323.06 294.03,322.06 294.06,320.46 294.09,318.34 294.13,315.81 294.18,312.97 294.25,309.92 294.32,306.72 294.40,303.46 294.49,300.17 294.59,296.91 294.70,293.69 294.82,290.54 294.95,287.47 295.09,284.48 295.24,281.60 295.39,278.80 295.56,276.11 295.74,273.51 295.92,271.01 296.12,268.59 296.33,266.27 296.54,264.03 296.77,261.88 297.00,259.81 297.24,257.81 297.50,255.89 297.76,254.04 298.03,252.25 298.31,250.54 298.61,248.88 298.91,247.29 299.22,245.75 299.54,244.27 299.87,242.84 300.21,241.46 300.56,240.13 300.91,238.85 301.28,237.62 301.66,236.43 302.05,235.28 302.44,234.17 302.85,233.11 303.27,232.08 303.69,231.08 304.13,230.13 304.57,229.20 305.03,228.31 305.49,227.46 305.96,226.63 306.44,225.83 306.94,225.06 307.44,224.33 307.95,223.61 308.47,222.93 309.00,222.27 309.54,221.63 310.09,221.02 310.65,220.43 311.22,219.86 311.80,219.31 312.39,218.79 312.98,218.29 313.59,217.80 314.21,217.34 314.83,216.89 315.47,216.46 316.11,216.05 316.77,215.65 317.43,215.27 318.11,214.91 318.79,214.56 319.48,214.23 320.19,213.91 320.90,213.60 321.62,213.31 322.35,213.03 323.09,212.76 323.84,212.51 324.60,212.27 325.37,212.03 326.15,211.81 326.94,211.60 327.74,211.40 328.55,211.20 329.36,211.02 330.19,210.85 331.03,210.68 331.87,210.52 332.73,210.37 333.59,210.23 334.47,210.09 335.35,209.96 336.25,209.84 337.15,209.73 338.06,209.62 338.98,209.51 339.92,209.42 340.86,209.32 341.81,209.24 342.77,209.15 343.74,209.08 344.72,209.00 345.71,208.93 346.71,208.87 347.72,208.81 348.74,208.75 349.76,208.69 350.80,208.64 351.85,208.59 352.90,208.55 353.97,208.51 355.04,208.47 356.13,208.43 357.22,208.40 358.33,208.36 359.44,208.33 360.56,208.30 361.70,208.28 362.84,208.25" fill="none" stroke="#FF0000" stroke-width="2.5"/><circle cx="296.1" cy="248.3" r="2.25" fill="#0000FF"/><circle cx="302.3" cy="222.9" r="2.25" fill="#0000FF"/><circle cx="306.8" cy="214.6" r="2.25" fill="#0000FF"/><circle cx="311.1" cy="210.0" r="2.25" fill="#0000FF"/><circle cx="319.9" cy="206.9" r="2.25" fill="#0000FF"/><circle cx="328.3" cy="205.4" r="2.25" fill="#0000FF"/><circle cx="345.6" cy="204.2" r="2.25" fill="#0000FF"/><circle cx="363.0" cy="203.1" r="2.25" fill="#0000FF"/><rect x="371.52" y="17.0" width="76.2" height="15.00" fill="#D9D9D9"/><text x="409.62" y="27.70" font-size="7.7" fill="#1A1A1A" color="#1A1A1A" text-anchor="middle">10</text><rect x="371.52" y="32.0" width="76.2" height="143.10" fill="#EBEBEB"/><line x1="383.64" x2="383.64" y1="32.0" y2="175.1" stroke="#fff" stroke-width="0.5"/><line x1="400.96" x2="400.96" y1="32.0" y2="175.1" stroke="#fff" stroke-width="0.5"/><line x1="418.28" x2="418.28" y1="32.0" y2="175.1" stroke="#fff" stroke-width="0.5"/><line x1="435.60" x2="435.60" y1="32.0" y2="175.1" stroke="#fff" stroke-width="0.5"/><line x1="371.52" x2="447.72" y1="155.18" y2="155.18" stroke="#fff" stroke-width="0.5"/><line x1="371.52" x2="447.72" y1="124.12" y2="124.12" stroke="#fff" stroke-width="0.5"/><line x1="371.52" x2="447.72" y1="93.07" y2="93.07" stroke="#fff" stroke-width="0.5"/><line x1="371.52" x2="447.72" y1="62.02" y2="62.02" stroke="#fff" stroke-width="0.5"/><line x1="371.52" x2="447.72" y1="170.70" y2="170.70" stroke="#fff" stroke-width="1"/><line x1="371.52" x2="447.72" y1="139.65" y2="139.65" stroke="#fff" stroke-width="1"/><line x1="371.52" x2="447.72" y1="108.60" y2="108.60" stroke="#fff" stroke-width="1"/><line x1="371.52" x2="447.72" y1="77.55" y2="77.55" stroke="#fff" stroke-width="1"/><line x1="371.52" x2="447.72" y1="46.50" y2="46.50" stroke="#fff" stroke-width="1"/><line x1="374.98" x2="374.98" y1="32.0" y2="175.1" stroke="#fff" stroke-width="1"/><line x1="392.30" x2="392.30" y1="32.0" y2="175.1" stroke="#fff" stroke-width="1"/><line x1="409.62" x2="409.62" y1="32.0" y2="175.1" stroke="#fff" stroke-width="1"/><line x1="426.94" x2="426.94" y1="32.0" y2="175.1" stroke="#fff" stroke-width="1"/><line x1="444.26" x2="444.26" y1="32.0" y2="175.1" stroke="#fff" stroke-width="1"/><rect x="371.52" y="180.5" width="76.2" height="142.50" fill="#EBEBEB"/><line x1="383.64" x2="383.64" y1="180.5" y2="323.0" stroke="#fff" stroke-width="0.5"/><line x1="400.96" x2="400.96" y1="180.5" y2="323.0" stroke="#fff" stroke-width="0.5"/><line x1="418.28" x2="418.28" y1="180.5" y2="323.0" stroke="#fff" stroke-width="0.5"/><line x1="435.60" x2="435.60" y1="180.5" y2="323.0" stroke="#fff" stroke-width="0.5"/><line x1="371.52" x2="447.72" y1="305.29" y2="305.29" stroke="#fff" stroke-width="0.5"/><line x1="371.52" x2="447.72" y1="267.34" y2="267.34" stroke="#fff" stroke-width="0.5"/><line x1="371.52" x2="447.72" y1="229.39" y2="229.39" stroke="#fff" stroke-width="0.5"/><line x1="371.52" x2="447.72" y1="191.44" y2="191.44" stroke="#fff" stroke-width="0.5"/><line x1="371.52" x2="447.72" y1="323.40" y2="323.40" stroke="#fff" stroke-width="1"/><line x1="371.52" x2="447.72" y1="287.19" y2="287.19" stroke="#fff" stroke-width="1"/><line x1="371.52" x2="447.72" y1="247.50" y2="247.50" stroke="#fff" stroke-width="1"/><line x1="371.52" x2="447.72" y1="211.29" y2="211.29" stroke="#fff" stroke-width="1"/><line x1="374.98" x2="374.98" y1="180.5" y2="323.0" stroke="#fff" stroke-width="1"/><line x1="392.30" x2="392.30" y1="180.5" y2="323.0" stroke="#fff" stroke-width="1"/><line x1="409.62" x2="409.62" y1="180.5" y2="323.0" stroke="#fff" stroke-width="1"/><line x1="426.94" x2="426.94" y1="180.5" y2="323.0" stroke="#fff" stroke-width="1"/><line x1="444.26" x2="444.26" y1="180.5" y2="323.0" stroke="#fff" stroke-width="1"/><line x1="374.98" x2="374.98" y1="323.0" y2="325.90" stroke="#333" stroke-width="1"/><text x="374.98" y="336.6" font-size="10.6" fill="#4D4D4D" color="#4D4D4D" text-anchor="middle">0</text><line x1="392.30" x2="392.30" y1="323.0" y2="325.90" stroke="#333" stroke-width="1"/><text x="392.30" y="336.6" font-size="10.6" fill="#4D4D4D" color="#4D4D4D" text-anchor="middle">1</text><line x1="409.62" x2="409.62" y1="323.0" y2="325.90" stroke="#333" stroke-width="1"/><text x="409.62" y="336.6" font-size="10.6" fill="#4D4D4D" color="#4D4D4D" text-anchor="middle">2</text><line x1="426.94" x2="426.94" y1="323.0" y2="325.90" stroke="#333" stroke-width="1"/><text x="426.94" y="336.6" font-size="10.6" fill="#4D4D4D" color="#4D4D4D" text-anchor="middle">3</text><line x1="444.26" x2="444.26" y1="323.0" y2="325.90" stroke="#333" stroke-width="1"/><text x="444.26" y="336.6" font-size="10.6" fill="#4D4D4D" color="#4D4D4D" text-anchor="middle">4</text><g clip-path="none"><polyline points="376.46,60.10 376.71,63.40 444.26,126.25" fill="none" stroke="#0000FF" stroke-width="2.5" stroke-linejoin="round"/><polyline points="376.46,60.10 376.71,63.70 444.26,128.00" fill="none" stroke="#00FF00" stroke-width="2.5" stroke-linejoin="round"/><polyline points="374.98,44.70 376.71,63.10 444.26,124.50" fill="none" stroke="#FF0000" stroke-width="2.5" stroke-linejoin="round"/><circle cx="376.7" cy="65.8" r="2.25" fill="#0000FF"/><circle cx="378.3" cy="68.4" r="2.25" fill="#0000FF"/><circle cx="379.7" cy="71.2" r="2.25" fill="#0000FF"/><circle cx="383.8" cy="77.3" r="2.25" fill="#0000FF"/><circle cx="388.1" cy="84.1" r="2.25" fill="#0000FF"/><circle cx="392.4" cy="91.2" r="2.25" fill="#0000FF"/><circle cx="396.8" cy="97.8" r="2.25" fill="#0000FF"/><circle cx="401.1" cy="104" r="2.25" fill="#0000FF"/><circle cx="405.4" cy="115.7" r="2.25" fill="#0000FF"/><circle cx="409.8" cy="124.4" r="2.25" fill="#0000FF"/><circle cx="414.1" cy="133.9" r="2.25" fill="#0000FF"/></g><polyline points="375.44,323.40 375.44,323.06 375.46,322.08 375.48,320.50 375.52,318.41 375.56,315.92 375.61,313.11 375.67,310.09 375.75,306.93 375.83,303.69 375.92,300.44 376.02,297.19 376.13,294.00 376.25,290.86 376.38,287.81 376.52,284.84 376.66,281.97 376.82,279.19 376.99,276.50 377.17,273.91 377.35,271.42 377.55,269.01 377.75,266.70 377.97,264.47 378.19,262.32 378.43,260.25 378.67,258.26 378.92,256.34 379.19,254.49 379.46,252.71 379.74,251.00 380.03,249.35 380.33,247.75 380.64,246.22 380.96,244.74 381.29,243.31 381.63,241.94 381.98,240.61 382.34,239.33 382.71,238.10 383.09,236.91 383.47,235.76 383.87,234.66 384.28,233.59 384.69,232.56 385.12,231.57 385.55,230.61 386.00,229.69 386.45,228.80 386.91,227.95 387.39,227.12 387.87,226.32 388.36,225.56 388.86,224.82 389.38,224.10 389.90,223.42 390.43,222.76 390.97,222.12 391.52,221.51 392.08,220.92 392.64,220.35 393.22,219.81 393.81,219.29 394.41,218.78 395.02,218.30 395.63,217.83 396.26,217.39 396.89,216.96 397.54,216.55 398.19,216.15 398.86,215.77 399.53,215.41 400.22,215.06 400.91,214.73 401.61,214.41 402.32,214.10 403.04,213.81 403.78,213.53 404.52,213.26 405.27,213.01 406.03,212.76 406.80,212.53 407.57,212.31 408.36,212.10 409.16,211.90 409.97,211.70 410.79,211.52 411.61,211.34 412.45,211.18 413.30,211.02 414.15,210.87 415.02,210.73 415.89,210.59 416.77,210.46 417.67,210.34 418.57,210.23 419.48,210.12 420.41,210.01 421.34,209.92 422.28,209.82 423.23,209.74 424.19,209.65 425.16,209.58 426.14,209.50 427.13,209.43 428.13,209.37 429.14,209.31 430.16,209.25 431.18,209.19 432.22,209.14 433.27,209.09 434.32,209.05 435.39,209.01 436.47,208.97 437.55,208.93 438.64,208.90 439.75,208.86 440.86,208.83 441.99,208.80 443.12,208.78 444.26,208.75" fill="none" stroke="#0000FF" stroke-width="2.5"/><polyline points="375.45,323.40 375.45,323.07 375.47,322.10 375.49,320.54 375.52,318.49 375.57,316.02 375.62,313.25 375.68,310.26 375.75,307.13 375.83,303.93 375.92,300.70 376.03,297.48 376.14,294.31 376.25,291.19 376.38,288.16 376.52,285.21 376.67,282.34 376.83,279.58 377.00,276.90 377.17,274.32 377.36,271.84 377.55,269.44 377.76,267.13 377.97,264.90 378.20,262.76 378.43,260.70 378.68,258.71 378.93,256.80 379.19,254.95 379.47,253.18 379.75,251.47 380.04,249.82 380.34,248.23 380.65,246.69 380.97,245.22 381.30,243.79 381.64,242.42 381.99,241.09 382.35,239.82 382.72,238.59 383.09,237.40 383.48,236.25 383.88,235.15 384.28,234.08 384.70,233.06 385.12,232.06 385.56,231.11 386.00,230.19 386.46,229.30 386.92,228.44 387.39,227.62 387.88,226.82 388.37,226.06 388.87,225.32 389.38,224.61 389.90,223.92 390.43,223.26 390.97,222.62 391.52,222.01 392.08,221.42 392.65,220.86 393.23,220.31 393.82,219.79 394.41,219.29 395.02,218.80 395.64,218.34 396.26,217.89 396.90,217.46 397.54,217.05 398.20,216.66 398.86,216.28 399.54,215.91 400.22,215.57 400.91,215.23 401.62,214.91 402.33,214.61 403.05,214.32 403.78,214.04 404.52,213.77 405.27,213.51 406.03,213.27 406.80,213.04 407.58,212.82 408.37,212.60 409.17,212.40 409.97,212.21 410.79,212.03 411.62,211.85 412.45,211.69 413.30,211.53 414.15,211.38 415.02,211.24 415.89,211.10 416.78,210.97 417.67,210.85 418.57,210.74 419.49,210.63 420.41,210.52 421.34,210.42 422.28,210.33 423.23,210.24 424.19,210.16 425.16,210.08 426.14,210.01 427.13,209.94 428.13,209.88 429.14,209.81 430.16,209.76 431.19,209.70 432.22,209.65 433.27,209.60 434.33,209.56 435.39,209.52 436.47,209.48 437.55,209.44 438.65,209.40 439.75,209.37 440.86,209.34 441.99,209.31 443.12,209.29 444.26,209.26" fill="none" stroke="#00FF00" stroke-width="2.5"/><polyline points="375.43,323.40 375.44,323.06 375.45,322.06 375.48,320.46 375.51,318.34 375.55,315.81 375.60,312.97 375.67,309.92 375.74,306.72 375.82,303.46 375.91,300.17 376.01,296.91 376.12,293.69 376.24,290.54 376.37,287.47 376.51,284.48 376.66,281.60 376.81,278.80 376.98,276.11 377.16,273.51 377.34,271.01 377.54,268.59 377.75,266.27 377.96,264.03 378.19,261.88 378.42,259.81 378.66,257.81 378.92,255.89 379.18,254.04 379.45,252.25 379.73,250.54 380.03,248.88 380.33,247.29 380.64,245.75 380.96,244.27 381.29,242.84 381.63,241.46 381.98,240.13 382.33,238.85 382.70,237.62 383.08,236.43 383.47,235.28 383.86,234.17 384.27,233.11 384.69,232.08 385.11,231.08 385.55,230.13 385.99,229.20 386.45,228.31 386.91,227.46 387.38,226.63 387.86,225.83 388.36,225.06 388.86,224.33 389.37,223.61 389.89,222.93 390.42,222.27 390.96,221.63 391.51,221.02 392.07,220.43 392.64,219.86 393.22,219.31 393.81,218.79 394.40,218.29 395.01,217.80 395.63,217.34 396.25,216.89 396.89,216.46 397.53,216.05 398.19,215.65 398.85,215.27 399.53,214.91 400.21,214.56 400.90,214.23 401.61,213.91 402.32,213.60 403.04,213.31 403.77,213.03 404.51,212.76 405.26,212.51 406.02,212.27 406.79,212.03 407.57,211.81 408.36,211.60 409.16,211.40 409.97,211.20 410.78,211.02 411.61,210.85 412.45,210.68 413.29,210.52 414.15,210.37 415.01,210.23 415.89,210.09 416.77,209.96 417.67,209.84 418.57,209.73 419.48,209.62 420.40,209.51 421.34,209.42 422.28,209.32 423.23,209.24 424.19,209.15 425.16,209.08 426.14,209.00 427.13,208.93 428.13,208.87 429.14,208.81 430.16,208.75 431.18,208.69 432.22,208.64 433.27,208.59 434.32,208.55 435.39,208.51 436.46,208.47 437.55,208.43 438.64,208.40 439.75,208.36 440.86,208.33 441.98,208.30 443.12,208.28 444.26,208.25" fill="none" stroke="#FF0000" stroke-width="2.5"/><circle cx="377.8" cy="258.7" r="2.25" fill="#0000FF"/><circle cx="383.8" cy="256.7" r="2.25" fill="#0000FF"/><circle cx="388.1" cy="240.2" r="2.25" fill="#0000FF"/><circle cx="392.4" cy="234.0" r="2.25" fill="#0000FF"/><circle cx="401.1" cy="228.1" r="2.25" fill="#0000FF"/><circle cx="409.8" cy="225.0" r="2.25" fill="#0000FF"/><circle cx="427.1" cy="224.1" r="2.25" fill="#0000FF"/><circle cx="444.4" cy="224.1" r="2.25" fill="#0000FF"/><rect x="452.94" y="17.0" width="76.2" height="15.00" fill="#D9D9D9"/><text x="491.04" y="27.70" font-size="7.7" fill="#1A1A1A" color="#1A1A1A" text-anchor="middle">15</text><rect x="452.94" y="32.0" width="76.2" height="143.10" fill="#EBEBEB"/><line x1="465.06" x2="465.06" y1="32.0" y2="175.1" stroke="#fff" stroke-width="0.5"/><line x1="482.38" x2="482.38" y1="32.0" y2="175.1" stroke="#fff" stroke-width="0.5"/><line x1="499.70" x2="499.70" y1="32.0" y2="175.1" stroke="#fff" stroke-width="0.5"/><line x1="517.02" x2="517.02" y1="32.0" y2="175.1" stroke="#fff" stroke-width="0.5"/><line x1="452.94" x2="529.14" y1="155.18" y2="155.18" stroke="#fff" stroke-width="0.5"/><line x1="452.94" x2="529.14" y1="124.12" y2="124.12" stroke="#fff" stroke-width="0.5"/><line x1="452.94" x2="529.14" y1="93.07" y2="93.07" stroke="#fff" stroke-width="0.5"/><line x1="452.94" x2="529.14" y1="62.02" y2="62.02" stroke="#fff" stroke-width="0.5"/><line x1="452.94" x2="529.14" y1="170.70" y2="170.70" stroke="#fff" stroke-width="1"/><line x1="452.94" x2="529.14" y1="139.65" y2="139.65" stroke="#fff" stroke-width="1"/><line x1="452.94" x2="529.14" y1="108.60" y2="108.60" stroke="#fff" stroke-width="1"/><line x1="452.94" x2="529.14" y1="77.55" y2="77.55" stroke="#fff" stroke-width="1"/><line x1="452.94" x2="529.14" y1="46.50" y2="46.50" stroke="#fff" stroke-width="1"/><line x1="456.40" x2="456.40" y1="32.0" y2="175.1" stroke="#fff" stroke-width="1"/><line x1="473.72" x2="473.72" y1="32.0" y2="175.1" stroke="#fff" stroke-width="1"/><line x1="491.04" x2="491.04" y1="32.0" y2="175.1" stroke="#fff" stroke-width="1"/><line x1="508.36" x2="508.36" y1="32.0" y2="175.1" stroke="#fff" stroke-width="1"/><line x1="525.68" x2="525.68" y1="32.0" y2="175.1" stroke="#fff" stroke-width="1"/><rect x="452.94" y="180.5" width="76.2" height="142.50" fill="#EBEBEB"/><line x1="465.06" x2="465.06" y1="180.5" y2="323.0" stroke="#fff" stroke-width="0.5"/><line x1="482.38" x2="482.38" y1="180.5" y2="323.0" stroke="#fff" stroke-width="0.5"/><line x1="499.70" x2="499.70" y1="180.5" y2="323.0" stroke="#fff" stroke-width="0.5"/><line x1="517.02" x2="517.02" y1="180.5" y2="323.0" stroke="#fff" stroke-width="0.5"/><line x1="452.94" x2="529.14" y1="305.29" y2="305.29" stroke="#fff" stroke-width="0.5"/><line x1="452.94" x2="529.14" y1="267.34" y2="267.34" stroke="#fff" stroke-width="0.5"/><line x1="452.94" x2="529.14" y1="229.39" y2="229.39" stroke="#fff" stroke-width="0.5"/><line x1="452.94" x2="529.14" y1="191.44" y2="191.44" stroke="#fff" stroke-width="0.5"/><line x1="452.94" x2="529.14" y1="323.40" y2="323.40" stroke="#fff" stroke-width="1"/><line x1="452.94" x2="529.14" y1="287.19" y2="287.19" stroke="#fff" stroke-width="1"/><line x1="452.94" x2="529.14" y1="247.50" y2="247.50" stroke="#fff" stroke-width="1"/><line x1="452.94" x2="529.14" y1="211.29" y2="211.29" stroke="#fff" stroke-width="1"/><line x1="456.40" x2="456.40" y1="180.5" y2="323.0" stroke="#fff" stroke-width="1"/><line x1="473.72" x2="473.72" y1="180.5" y2="323.0" stroke="#fff" stroke-width="1"/><line x1="491.04" x2="491.04" y1="180.5" y2="323.0" stroke="#fff" stroke-width="1"/><line x1="508.36" x2="508.36" y1="180.5" y2="323.0" stroke="#fff" stroke-width="1"/><line x1="525.68" x2="525.68" y1="180.5" y2="323.0" stroke="#fff" stroke-width="1"/><line x1="456.40" x2="456.40" y1="323.0" y2="325.90" stroke="#333" stroke-width="1"/><text x="456.40" y="336.6" font-size="10.6" fill="#4D4D4D" color="#4D4D4D" text-anchor="middle">0</text><line x1="473.72" x2="473.72" y1="323.0" y2="325.90" stroke="#333" stroke-width="1"/><text x="473.72" y="336.6" font-size="10.6" fill="#4D4D4D" color="#4D4D4D" text-anchor="middle">1</text><line x1="491.04" x2="491.04" y1="323.0" y2="325.90" stroke="#333" stroke-width="1"/><text x="491.04" y="336.6" font-size="10.6" fill="#4D4D4D" color="#4D4D4D" text-anchor="middle">2</text><line x1="508.36" x2="508.36" y1="323.0" y2="325.90" stroke="#333" stroke-width="1"/><text x="508.36" y="336.6" font-size="10.6" fill="#4D4D4D" color="#4D4D4D" text-anchor="middle">3</text><line x1="525.68" x2="525.68" y1="323.0" y2="325.90" stroke="#333" stroke-width="1"/><text x="525.68" y="336.6" font-size="10.6" fill="#4D4D4D" color="#4D4D4D" text-anchor="middle">4</text><g clip-path="none"><polyline points="457.88,54.34 458.13,57.64 525.68,120.49" fill="none" stroke="#0000FF" stroke-width="2.5" stroke-linejoin="round"/><polyline points="457.88,54.34 458.13,57.94 525.68,122.24" fill="none" stroke="#00FF00" stroke-width="2.5" stroke-linejoin="round"/><polyline points="456.40,38.94 458.13,57.34 525.68,118.74" fill="none" stroke="#FF0000" stroke-width="2.5" stroke-linejoin="round"/><circle cx="458.1" cy="59.2" r="2.25" fill="#0000FF"/><circle cx="460.7" cy="63.9" r="2.25" fill="#0000FF"/><circle cx="465.2" cy="69" r="2.25" fill="#0000FF"/><circle cx="469.7" cy="74.9" r="2.25" fill="#0000FF"/><circle cx="474" cy="80.6" r="2.25" fill="#0000FF"/><circle cx="478.5" cy="85.1" r="2.25" fill="#0000FF"/><circle cx="482.6" cy="90.2" r="2.25" fill="#0000FF"/><circle cx="487" cy="95.9" r="2.25" fill="#0000FF"/><circle cx="491.3" cy="102.4" r="2.25" fill="#0000FF"/><circle cx="495.5" cy="107.8" r="2.25" fill="#0000FF"/><circle cx="499.9" cy="113.6" r="2.25" fill="#0000FF"/><circle cx="504.3" cy="119.3" r="2.25" fill="#0000FF"/><circle cx="508.7" cy="125.7" r="2.25" fill="#0000FF"/></g><polyline points="456.86,323.40 456.86,323.06 456.88,322.08 456.90,320.50 456.94,318.41 456.98,315.92 457.03,313.11 457.09,310.09 457.17,306.93 457.25,303.69 457.34,300.44 457.44,297.19 457.55,294.00 457.67,290.86 457.80,287.81 457.94,284.84 458.08,281.97 458.24,279.19 458.41,276.50 458.59,273.91 458.77,271.42 458.97,269.01 459.17,266.70 459.39,264.47 459.61,262.32 459.85,260.25 460.09,258.26 460.34,256.34 460.61,254.49 460.88,252.71 461.16,251.00 461.45,249.35 461.75,247.75 462.06,246.22 462.38,244.74 462.71,243.31 463.05,241.94 463.40,240.61 463.76,239.33 464.13,238.10 464.51,236.91 464.89,235.76 465.29,234.66 465.70,233.59 466.11,232.56 466.54,231.57 466.97,230.61 467.42,229.69 467.87,228.80 468.33,227.95 468.81,227.12 469.29,226.32 469.78,225.56 470.28,224.82 470.80,224.10 471.32,223.42 471.85,222.76 472.39,222.12 472.94,221.51 473.50,220.92 474.06,220.35 474.64,219.81 475.23,219.29 475.83,218.78 476.44,218.30 477.05,217.83 477.68,217.39 478.31,216.96 478.96,216.55 479.61,216.15 480.28,215.77 480.95,215.41 481.64,215.06 482.33,214.73 483.03,214.41 483.74,214.10 484.46,213.81 485.20,213.53 485.94,213.26 486.69,213.01 487.45,212.76 488.22,212.53 488.99,212.31 489.78,212.10 490.58,211.90 491.39,211.70 492.21,211.52 493.03,211.34 493.87,211.18 494.72,211.02 495.57,210.87 496.44,210.73 497.31,210.59 498.19,210.46 499.09,210.34 499.99,210.23 500.90,210.12 501.83,210.01 502.76,209.92 503.70,209.82 504.65,209.74 505.61,209.65 506.58,209.58 507.56,209.50 508.55,209.43 509.55,209.37 510.56,209.31 511.58,209.25 512.60,209.19 513.64,209.14 514.69,209.09 515.74,209.05 516.81,209.01 517.89,208.97 518.97,208.93 520.06,208.90 521.17,208.86 522.28,208.83 523.41,208.80 524.54,208.78 525.68,208.75" fill="none" stroke="#0000FF" stroke-width="2.5"/><polyline points="456.87,323.40 456.87,323.07 456.89,322.10 456.91,320.54 456.94,318.49 456.99,316.02 457.04,313.25 457.10,310.26 457.17,307.13 457.25,303.93 457.34,300.70 457.45,297.48 457.56,294.31 457.67,291.19 457.80,288.16 457.94,285.21 458.09,282.34 458.25,279.58 458.42,276.90 458.59,274.32 458.78,271.84 458.97,269.44 459.18,267.13 459.39,264.90 459.62,262.76 459.85,260.70 460.10,258.71 460.35,256.80 460.61,254.95 460.89,253.18 461.17,251.47 461.46,249.82 461.76,248.23 462.07,246.69 462.39,245.22 462.72,243.79 463.06,242.42 463.41,241.09 463.77,239.82 464.14,238.59 464.51,237.40 464.90,236.25 465.30,235.15 465.70,234.08 466.12,233.06 466.54,232.06 466.98,231.11 467.42,230.19 467.88,229.30 468.34,228.44 468.81,227.62 469.30,226.82 469.79,226.06 470.29,225.32 470.80,224.61 471.32,223.92 471.85,223.26 472.39,222.62 472.94,222.01 473.50,221.42 474.07,220.86 474.65,220.31 475.24,219.79 475.83,219.29 476.44,218.80 477.06,218.34 477.68,217.89 478.32,217.46 478.96,217.05 479.62,216.66 480.28,216.28 480.96,215.91 481.64,215.57 482.33,215.23 483.04,214.91 483.75,214.61 484.47,214.32 485.20,214.04 485.94,213.77 486.69,213.51 487.45,213.27 488.22,213.04 489.00,212.82 489.79,212.60 490.59,212.40 491.39,212.21 492.21,212.03 493.04,211.85 493.87,211.69 494.72,211.53 495.57,211.38 496.44,211.24 497.31,211.10 498.20,210.97 499.09,210.85 499.99,210.74 500.91,210.63 501.83,210.52 502.76,210.42 503.70,210.33 504.65,210.24 505.61,210.16 506.58,210.08 507.56,210.01 508.55,209.94 509.55,209.88 510.56,209.81 511.58,209.76 512.61,209.70 513.64,209.65 514.69,209.60 515.75,209.56 516.81,209.52 517.89,209.48 518.97,209.44 520.07,209.40 521.17,209.37 522.28,209.34 523.41,209.31 524.54,209.29 525.68,209.26" fill="none" stroke="#00FF00" stroke-width="2.5"/><polyline points="456.85,323.40 456.86,323.06 456.87,322.06 456.90,320.46 456.93,318.34 456.97,315.81 457.02,312.97 457.09,309.92 457.16,306.72 457.24,303.46 457.33,300.17 457.43,296.91 457.54,293.69 457.66,290.54 457.79,287.47 457.93,284.48 458.08,281.60 458.23,278.80 458.40,276.11 458.58,273.51 458.76,271.01 458.96,268.59 459.17,266.27 459.38,264.03 459.61,261.88 459.84,259.81 460.08,257.81 460.34,255.89 460.60,254.04 460.87,252.25 461.15,250.54 461.45,248.88 461.75,247.29 462.06,245.75 462.38,244.27 462.71,242.84 463.05,241.46 463.40,240.13 463.75,238.85 464.12,237.62 464.50,236.43 464.89,235.28 465.28,234.17 465.69,233.11 466.11,232.08 466.53,231.08 466.97,230.13 467.41,229.20 467.87,228.31 468.33,227.46 468.80,226.63 469.28,225.83 469.78,225.06 470.28,224.33 470.79,223.61 471.31,222.93 471.84,222.27 472.38,221.63 472.93,221.02 473.49,220.43 474.06,219.86 474.64,219.31 475.23,218.79 475.82,218.29 476.43,217.80 477.05,217.34 477.67,216.89 478.31,216.46 478.95,216.05 479.61,215.65 480.27,215.27 480.95,214.91 481.63,214.56 482.32,214.23 483.03,213.91 483.74,213.60 484.46,213.31 485.19,213.03 485.93,212.76 486.68,212.51 487.44,212.27 488.21,212.03 488.99,211.81 489.78,211.60 490.58,211.40 491.39,211.20 492.20,211.02 493.03,210.85 493.87,210.68 494.71,210.52 495.57,210.37 496.43,210.23 497.31,210.09 498.19,209.96 499.09,209.84 499.99,209.73 500.90,209.62 501.82,209.51 502.76,209.42 503.70,209.32 504.65,209.24 505.61,209.15 506.58,209.08 507.56,209.00 508.55,208.93 509.55,208.87 510.56,208.81 511.58,208.75 512.60,208.69 513.64,208.64 514.69,208.59 515.74,208.55 516.81,208.51 517.88,208.47 518.97,208.43 520.06,208.40 521.17,208.36 522.28,208.33 523.40,208.30 524.54,208.28 525.68,208.25" fill="none" stroke="#FF0000" stroke-width="2.5"/><circle cx="459.1" cy="317.0" r="2.25" fill="#0000FF"/><circle cx="465.0" cy="293.1" r="2.25" fill="#0000FF"/><circle cx="469.6" cy="272.4" r="2.25" fill="#0000FF"/><circle cx="474.0" cy="260.0" r="2.25" fill="#0000FF"/><circle cx="482.2" cy="245.0" r="2.25" fill="#0000FF"/><circle cx="491.2" cy="244.8" r="2.25" fill="#0000FF"/><circle cx="508.4" cy="242.1" r="2.25" fill="#0000FF"/><circle cx="525.9" cy="241.9" r="2.25" fill="#0000FF"/><rect x="529.14" y="32.0" width="15.86" height="143.10" fill="#D9D9D9"/><text transform="translate(534.14,103.55) rotate(90)" font-size="7.7" fill="#1A1A1A" color="#1A1A1A" text-anchor="middle">Plasma conc. (mg/L)</text><rect x="529.14" y="180.5" width="15.86" height="142.50" fill="#D9D9D9"/><text transform="translate(534.14,251.75) rotate(90)" font-size="7.7" fill="#1A1A1A" color="#1A1A1A" text-anchor="middle">Percentage of dose excreted (%)</text><line x1="43.24" x2="45.84" y1="46.50" y2="46.50" stroke="#333" stroke-width="1"/><text x="40.3" y="50.40" font-size="10.7" fill="#4D4D4D" color="#4D4D4D" text-anchor="end">100</text><line x1="43.24" x2="45.84" y1="77.55" y2="77.55" stroke="#333" stroke-width="1"/><text x="40.3" y="81.45" font-size="10.7" fill="#4D4D4D" color="#4D4D4D" text-anchor="end">10</text><line x1="43.24" x2="45.84" y1="108.60" y2="108.60" stroke="#333" stroke-width="1"/><text x="40.3" y="112.50" font-size="10.7" fill="#4D4D4D" color="#4D4D4D" text-anchor="end">1</text><line x1="43.24" x2="45.84" y1="139.65" y2="139.65" stroke="#333" stroke-width="1"/><text x="40.3" y="143.55" font-size="10.7" fill="#4D4D4D" color="#4D4D4D" text-anchor="end">0.1</text><line x1="43.24" x2="45.84" y1="170.70" y2="170.70" stroke="#333" stroke-width="1"/><text x="40.3" y="174.60" font-size="10.7" fill="#4D4D4D" color="#4D4D4D" text-anchor="end">0.01</text><line x1="43.24" x2="45.84" y1="211.29" y2="211.29" stroke="#333" stroke-width="1"/><text x="40.3" y="215.19" font-size="10.7" fill="#4D4D4D" color="#4D4D4D" text-anchor="end">30</text><line x1="43.24" x2="45.84" y1="247.50" y2="247.50" stroke="#333" stroke-width="1"/><text x="40.3" y="251.40" font-size="10.7" fill="#4D4D4D" color="#4D4D4D" text-anchor="end">10</text><line x1="43.24" x2="45.84" y1="287.19" y2="287.19" stroke="#333" stroke-width="1"/><text x="40.3" y="291.09" font-size="10.7" fill="#4D4D4D" color="#4D4D4D" text-anchor="end">3</text><line x1="43.24" x2="45.84" y1="323.40" y2="323.40" stroke="#333" stroke-width="1"/><text x="40.3" y="327.30" font-size="10.7" fill="#4D4D4D" color="#4D4D4D" text-anchor="end">1</text><text x="288" y="14.7" font-size="10.5" fill="#000" color="#000" text-anchor="middle">Exposure (mg/kg)</text><text x="288" y="350.4" font-size="10.7" fill="#000" color="#000" text-anchor="middle">Time [h]</text><text transform="translate(15.3,178.2) rotate(-90)" font-size="10.5" fill="#000" color="#000" text-anchor="middle">Compartments</text><rect x="128.0" y="368" width="16.3" height="15.8" fill="#F2F2F2"/><line x1="129.60" x2="142.70" y1="376" y2="376" stroke="#0000FF" stroke-width="2.2"/><circle cx="136.15" cy="376" r="2.0" fill="#0000FF"/><text x="150.00" y="379.2" font-size="7.6" font-weight="bold" fill="#000" color="#000" style="stroke-width:0.05px">Simulated_median</text><rect x="222.3" y="368" width="16.3" height="15.8" fill="#F2F2F2"/><line x1="223.90" x2="237.00" y1="376" y2="376" stroke="#00FF00" stroke-width="2.2"/><circle cx="230.45" cy="376" r="2.0" fill="#00FF00"/><text x="244.30" y="379.2" font-size="7.6" font-weight="bold" fill="#000" color="#000" style="stroke-width:0.05px">Simulated_p2.5</text><rect x="305.4" y="368" width="16.3" height="15.8" fill="#F2F2F2"/><line x1="307.00" x2="320.10" y1="376" y2="376" stroke="#FF0000" stroke-width="2.2"/><circle cx="313.55" cy="376" r="2.0" fill="#FF0000"/><text x="327.40" y="379.2" font-size="7.6" font-weight="bold" fill="#000" color="#000" style="stroke-width:0.05px">Simulated_p97.5</text><rect x="392.4" y="368" width="16.3" height="15.8" fill="#F2F2F2"/><line x1="394.00" x2="407.10" y1="376" y2="376" stroke="#0000FF" stroke-width="2.2"/><circle cx="400.55" cy="376" r="2.0" fill="#0000FF"/><text x="414.40" y="379.2" font-size="7.6" font-weight="bold" fill="#000" color="#000" style="stroke-width:0.05px">Exp_mean</text></svg>
</body></html>
